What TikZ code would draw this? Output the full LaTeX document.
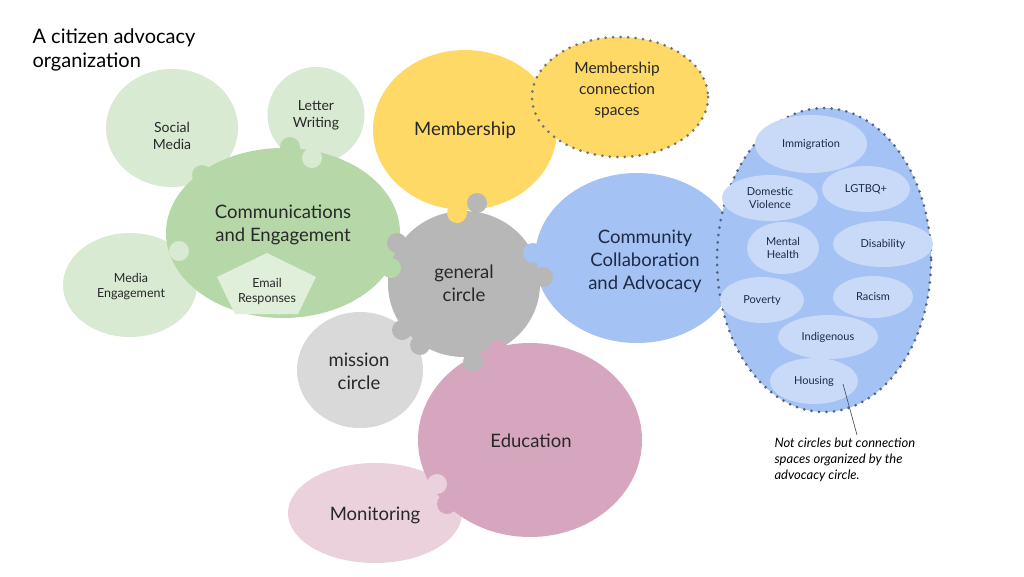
\documentclass[tikz,border=0pt]{standalone}
\usepackage{fontspec}
\setmainfont{Lato}
\usepackage{tikz}
\usetikzlibrary{positioning,shapes.geometric,calc}
\definecolor{orgGreen}{RGB}{182,215,168}
\definecolor{orgGreenL}{RGB}{217,234,211}
\definecolor{orgGreenP}{RGB}{224,239,218}
\definecolor{orgYellow}{RGB}{255,217,102}
\definecolor{orgGray}{RGB}{183,183,183}
\definecolor{orgGrayL}{RGB}{217,217,217}
\definecolor{orgBlue}{RGB}{164,194,244}
\definecolor{orgBlueL}{RGB}{201,218,248}
\definecolor{orgPink}{RGB}{213,166,189}
\definecolor{orgPinkL}{RGB}{234,209,220}
\definecolor{orgInk}{RGB}{40,40,40}
\definecolor{orgNavy}{RGB}{30,42,70}
\definecolor{orgDots}{RGB}{85,98,125}

\begin{document}
\begin{tikzpicture}[x=1pt, y=-1pt,
  blob/.style={ellipse, inner sep=0pt, align=center, text=orgInk},
  big/.style={font=\fontsize{18.5}{23}\selectfont},
  mid/.style={font=\fontsize{14}{17}\selectfont},
  small/.style={font=\fontsize{12.5}{15}\selectfont},
  tiny/.style={ellipse, inner sep=0pt, align=center, fill=orgBlueL,
               text=orgNavy, font=\fontsize{11}{13}\selectfont},
  dotline/.style={line width=3pt, line cap=round, dash pattern=on 0pt off 7.5pt},
  knob/.style={radius=10}
]
\useasboundingbox (0,0) rectangle (1024,576);
\fill[white] (0,0) rectangle (1024,576);

\node[anchor=north west, align=left, text=black,
      font=\fontsize{20}{24}\selectfont] (title) at (29,25)
  {A citizen advocacy\\organization};

% communications cluster
\node[blob, fill=orgGreenL, minimum width=132, minimum height=118] (social) at (172,128) {};
\node[blob, mid, fill=orgGreenL, minimum width=97, minimum height=96] (letter) at (316,115) {Letter\\Writing};
\node[blob, fill=orgGreenL, minimum width=134, minimum height=104] (media) at (130,285) {};
\node[mid, text=orgInk, align=center] (socialT) at (172,136) {Social\\Media};
\node[small, text=orgInk, align=center] (mediaT) at (131,287) {Media\\Engagement};
\node[blob, fill=orgGreen, minimum width=234, minimum height=170] (comms) at (283,233) {};
\foreach \x/\y in {202/175, 290/147, 190/270}
  \fill[orgGreen] (\x,\y) circle[knob];
\foreach \x/\y in {312/158, 179/251}
  \fill[orgGreenL] (\x,\y) circle[knob];
\node[big, text=orgInk, align=center] (commsT) at (283,225) {Communications\\and Engagement};
\fill[orgGreenP] (267,253) -- (316,277) -- (298,314) -- (235,314) -- (217,277) -- cycle;
\node[small, text=orgInk, align=center] (email) at (267,291) {Email\\Responses};

% membership
\node[blob, big, fill=orgYellow, minimum width=184, minimum height=160] (member) at (465,130) {Membership};
\node[blob, fill=orgYellow, minimum width=176, minimum height=120] (mspace) at (620,97) {};
\draw[dotline, draw=orgDots!85!orgYellow] (mspace.center) ellipse[x radius=88, y radius=60];
\node[text=orgInk, align=center, font=\fontsize{15.5}{21}\selectfont] (mspaceT) at (617,90) {Membership\\connection\\spaces};

% advocacy
\node[blob, fill=orgBlue, minimum width=204, minimum height=170] (advoc) at (637,258) {};
\node[blob, fill=orgBlue, minimum width=214, minimum height=304] (spaces) at (824,260) {};
\draw[dotline, draw=orgDots] (spaces.center) ellipse[x radius=107, y radius=152];
\node[big, text=orgNavy, align=center] (advocT) at (645,261) {Community\\Collaboration\\and Advocacy};
\node[tiny, minimum width=112, minimum height=58] (immig) at (811,144) {Immigration};
\node[tiny, minimum width=96, minimum height=46] (domv) at (770,198) {Domestic\\Violence};
\node[tiny, minimum width=88, minimum height=46] (lgbt) at (866,189) {LGTBQ+};
\node[tiny, minimum width=72, minimum height=52] (mental) at (783,248) {Mental\\Health};
\node[tiny, minimum width=100, minimum height=46] (disab) at (883,244) {Disability};
\node[tiny, minimum width=84, minimum height=46] (pov) at (762,300) {Poverty};
\node[tiny, minimum width=80, minimum height=42] (racism) at (873,297) {Racism};
\node[tiny, minimum width=100, minimum height=44] (indig) at (828,337) {Indigenous};
\node[tiny, minimum width=88, minimum height=46] (housing) at (814,381) {Housing};

% general and mission circles
\node[blob, fill=orgGrayL, minimum width=126, minimum height=116] (mission) at (360,370) {};
\node[blob, fill=orgGray, minimum width=152, minimum height=146] (general) at (464,284) {};
\foreach \x/\y in {477/203, 397/243, 543/277, 402/330, 420/345}
  \fill[orgGray] (\x,\y) circle[knob];
\fill[orgYellow] (457,213) circle[knob];
\fill[orgBlue] (533,253) circle[knob];
\fill[orgGreen] (391,268) circle[knob];
\node[big, text=orgInk, align=center] (generalT) at (464,283) {general\\circle};
\node[big, text=orgInk, align=center] (missionT) at (359,371) {mission\\circle};

% education
\node[blob, fill=orgPinkL, minimum width=174, minimum height=100] (monit) at (375,513) {};
\node[blob, fill=orgPink, minimum width=224, minimum height=194] (educ) at (530,440) {};
\foreach \x/\y in {498/350, 447/504}
  \fill[orgPink] (\x,\y) circle[knob];
\fill[orgPinkL] (437,484) circle[knob];
\fill[orgGray] (473,362) circle[knob];
\node[big, text=orgInk] (educT) at (531,441) {Education};
\node[big, text=orgInk] (monitT) at (375,515) {Monitoring};

% note
\node[anchor=north west, align=left, text=black,
      font=\fontsize{13}{16}\selectfont\itshape] (note) at (771,434)
  {Not circles but connection\\spaces organized by the\\advocacy circle.};
\coordinate (pin) at (843,384);
\coordinate (tip) at (857,435);
\draw[orgNavy!80, line width=0.7pt] (pin) -- (tip);
\end{tikzpicture}
\end{document}
